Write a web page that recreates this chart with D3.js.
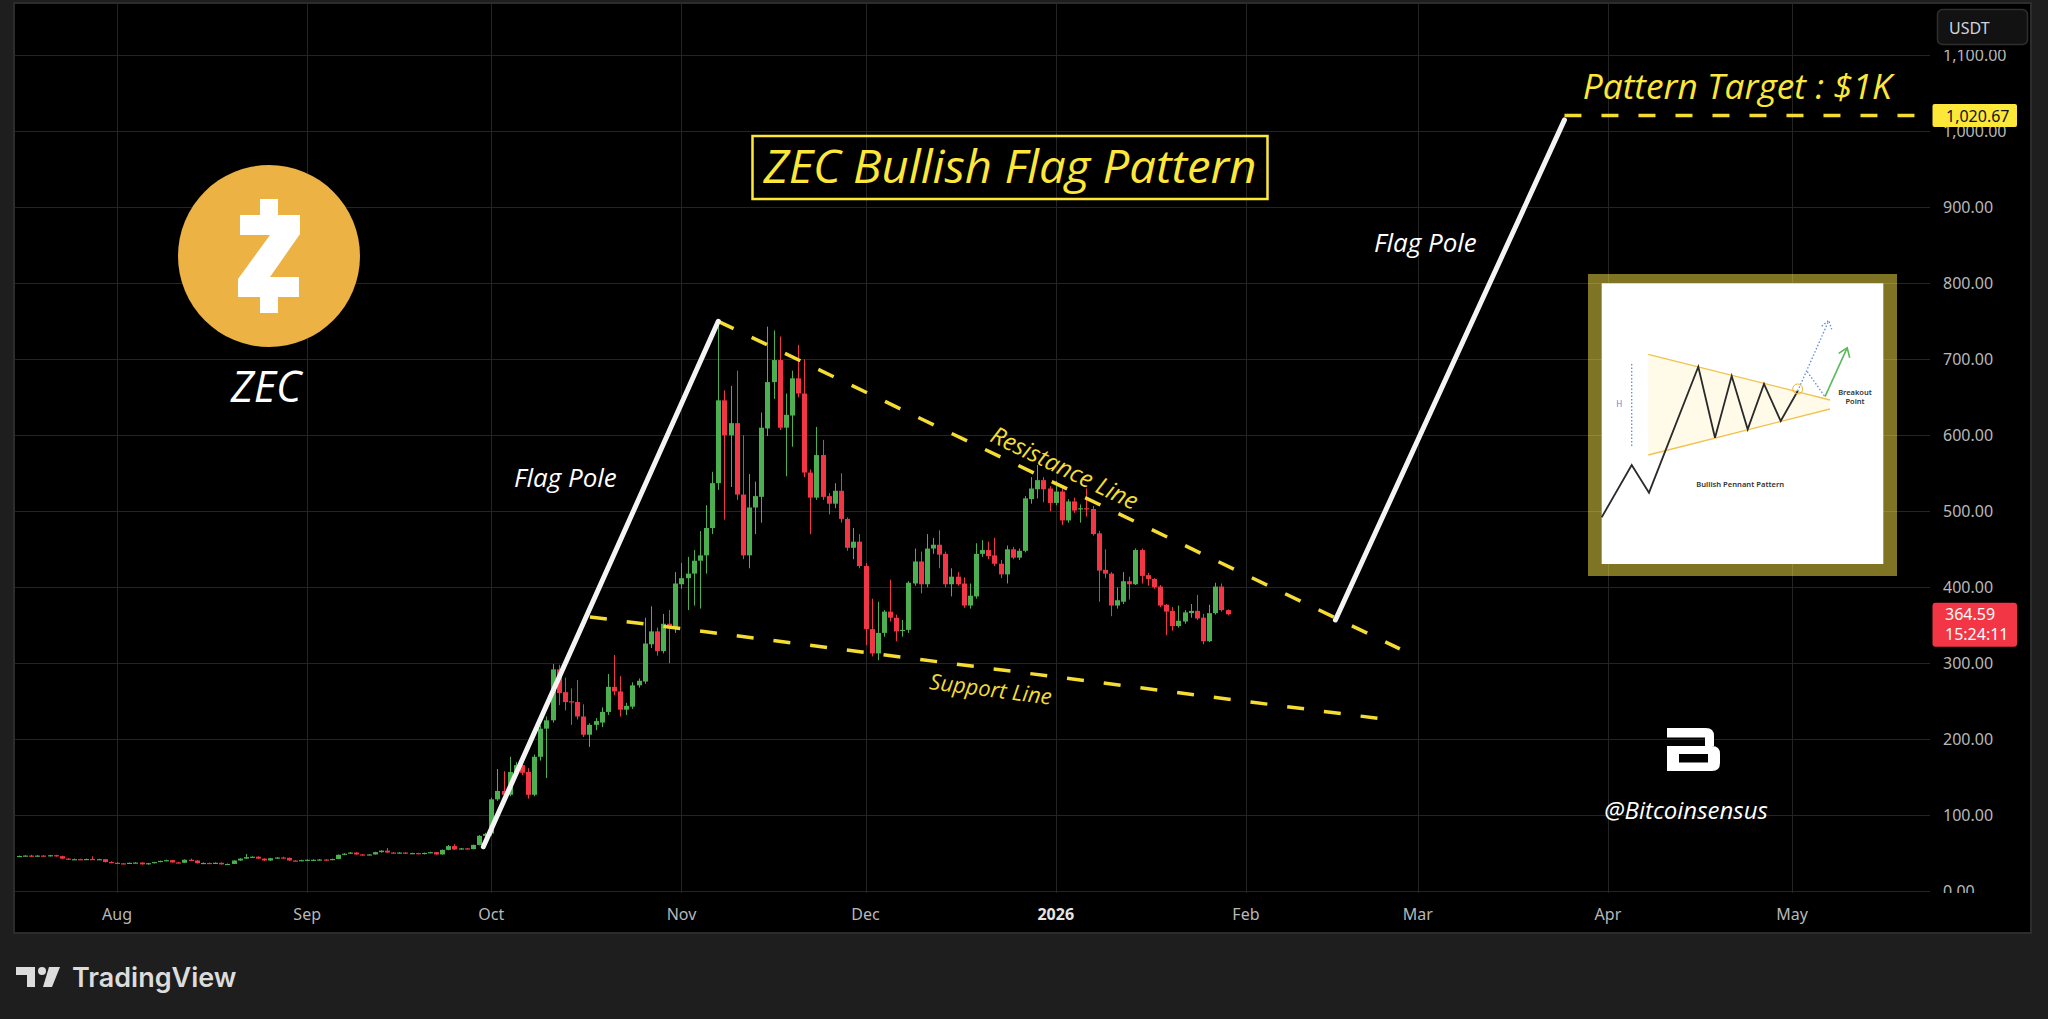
<!DOCTYPE html>
<html><head><meta charset="utf-8">
<script src="https://cdn.jsdelivr.net/npm/d3@7"></script>
<style>html,body{margin:0;padding:0;background:#1e1e1e;overflow:hidden}</style>
</head><body><svg id="c" width="2048" height="1019"></svg>
<script>
// ---------------- DATA ----------------
const firstDay = "2025-07-16";
const opens = [
45.5,46.5,47,46,47,46.5,47.5,46.2,43,42,
42.3,42,42.5,42,42.3,38.5,37.5,36.8,36.3,37.5,
37.8,35.5,37,38.5,40,41,38,37.5,41.5,40.5,
37,37.3,37,37.5,35.5,36,40.5,43,45,45.5,
43,40.5,43.5,44.5,44,40.5,40,41,41.5,41.5,
41.8,41.2,42.5,48,49.5,51,48.5,48,48.5,51.5,
53.5,51,50.5,51,50,50.3,49,50.5,51.5,48.5,
54.5,59.5,55,56.5,55.5,61,73,
76,121,132,127,157,166,157,127,177,214,
225,292,262,250,249,230,206,219,222,236,
269,263,239,243,271,276,325,342,316,352,346,
404,412,418,435,442,478,537,646,600,616,
522,442,505,519,609,670,699,610,626,675,
655,551,518,574,520,510,527,490,452,460,
428,345,313,340,368,360,343,344,405,434,
404,451,456,444,404,414,405,376,388,444,
449,442,431,417,450,439,448,516,529,541,
530,511,526,488,513,503,504,503,471,423,
418,376,381,408,404,449,416,411,401,377,
369,349,355,366,369,360,329,366,401,370];
const highs = [
47,47.5,48,47.5,47.5,48,48,46.8,43.5,43,
42.8,43,46,42.8,42.6,39.5,38.5,37.4,37.8,38.4,
38.2,37.5,38.8,40.4,41.6,41.4,38.6,42,43,41,
38,37.8,38,38,36.5,41,43.5,49,46,46,
43.5,44,45,45.5,44.5,41,41.5,42,42,42.5,
42.2,43,48.5,50,51.5,51.5,49,49,52,54,
57,51.6,51.5,51.5,50.8,50.6,51,52,52,55,
61,62,57,57,61.5,74,77,
123,161,158,177,170,178,162,180,218,230,
299,298,281,267,278,246,221,228,242,286,
311,283,248,275,280,360,375,347,365,370,420,
432,440,449,474,508,552,750,659,665,685,
600,549,539,630,743,738,730,655,685,719,
700,555,611,594,524,537,550,492,478,470,
432,385,381,370,410,364,357,408,451,447,
470,465,475,447,425,420,413,405,458,462,
460,465,436,455,453,451,520,545,561,545,
533,540,530,516,518,509,530,507,474,450,
420,400,420,414,451,451,419,412,403,378,
374,376,370,378,390,365,377,406,405,371];
const lows = [
45,46,45.5,45.5,46,46,45.5,42.5,41.5,41.5,
41.6,41.5,41.8,41.5,38,37,36.2,35.6,36,37,
35,35.2,36.6,38.2,39.6,37.6,37,37.2,40,36.6,
36.6,36.5,36.6,35,35,35.8,40.2,42.6,44.5,42.6,
40,40.2,43,43.5,40,39.6,39.6,40.6,41,41.2,
40.8,41,42.2,47.5,49,48,47.5,47.6,48.2,51,
50.6,50,50,49.6,49.6,48.6,48.6,50,48,48.2,
54,54.5,54.6,55,55.2,60.5,72,
73,119,125,125,150,153,122,125,172,149,
222,245,238,219,226,203,190,212,216,232,
258,230,232,240,268,273,320,310,313,300,340,
398,370,376,372,418,470,528,489,532,515,
437,425,470,485,599,648,607,546,585,650,
545,470,515,515,496,504,485,448,437,425,
324,309,304,335,355,329,335,340,402,392,
400,444,425,400,388,402,373,372,385,440,
437,428,412,405,437,436,446,510,517,512,
500,508,482,485,498,485,493,468,381,412,
362,372,378,384,403,405,402,398,374,337,
343,347,352,360,357,325,328,364,368,363];
const closes = [
46.5,47,46,47,46.5,47.5,46.2,43,42,42.3,
42,42.5,42,42.3,38.5,37.5,36.8,36.3,37.5,37.8,
35.5,37,38.5,40,41,38,37.5,41.5,40.5,37,
37.3,37,37.5,35.5,36,40.5,43,45,45.5,43,
40.5,43.5,44.5,44,40.5,40,41,41.5,41.5,41.8,
41.2,42.5,48,49.5,51,48.5,48,48.5,51.5,53.5,
51,50.5,51,50,50.3,49,50.5,51.5,48.5,54.5,
59.5,55,56.5,55.5,61,73,75.5,
121,132,127,157,166,156,127,177,214,225,
292,261,249,249,230,206,219,224,236,269,
263,239,244,271,277,326,342,316,352,346,405,
412,418,435,442,478,537,646,600,616,522,
442,505,520,610,670,699,610,627,675,655,
551,518,574,519,510,527,490,452,460,428,
345,313,340,368,360,342,344,406,434,404,
451,456,443,404,414,404,376,389,444,449,
441,431,417,450,439,448,517,530,541,529,
511,526,488,513,501,504,503,470,422,418,
376,383,408,404,449,415,411,400,376,368,
349,356,367,369,359,329,366,401,370,364.59];

const priceTicks = [0,100,200,300,400,500,600,700,800,900,1000,1100];
const monthTicks = ["2025-08-01","2025-09-01","2025-10-01","2025-11-01","2025-12-01","2026-01-01","2026-02-01","2026-03-01","2026-04-01","2026-05-01"];
const monthLabels = ["Aug","Sep","Oct","Nov","Dec","2026","Feb","Mar","Apr","May"];

// drawn annotations (date, price)
const poleLeft   = [["2025-09-29T17:00Z", 58.7], ["2025-11-07T00:00Z", 750]];
const resistance = [["2025-11-07T00:00Z", 750], ["2026-02-26T02:00Z", 319]];
const support    = [["2025-10-17T02:00Z", 361], ["2026-02-24T00:00Z", 226]];
const poleRight  = [["2026-02-15T14:00Z", 357], ["2026-03-24T22:00Z", 1015]];
const targetPrice = 1020.67;
const targetSpan = ["2026-03-24T22:00Z", "2026-05-22T00:00Z"];
const countdown = "15:24:11";

// ---------------- LAYOUT ----------------
const svg = d3.select("#c");
const UP="#4caf50", DOWN="#f23645", YEL="#f4dc32", GRID="#242424", TXT="#b8b8b8";
const FONT="'Noto Sans', 'Open Sans', sans-serif", IFONT="'Open Sans', 'Noto Sans', sans-serif";
const plot = {l:14, r:1930, t:3, b:893};

const x = d3.scaleUtc().domain([new Date("2025-08-01T00:00Z"), new Date("2026-05-01T00:00Z")]).range([117,1792]);
const y = d3.scaleLinear().domain([0,1100]).range([891.3,55.3]);
const D = s => new Date(s.length===10 ? s+"T00:00Z" : s);

const t0 = D(firstDay);
const candles = opens.map((o,i)=>({date:d3.utcDay.offset(t0,i), o, h:highs[i], l:lows[i], c:closes[i]}));

svg.append("rect").attr("width",2048).attr("height",1019).attr("fill","#1e1e1e");
svg.append("rect").attr("x",14).attr("y",3).attr("width",2017).attr("height",930)
  .attr("fill","#000").attr("stroke","#2c2c2c").attr("stroke-width",2);

const defs = svg.append("defs");
defs.append("clipPath").attr("id","plotclip").append("rect")
  .attr("x",plot.l).attr("y",plot.t).attr("width",plot.r-plot.l).attr("height",plot.b-plot.t);
defs.append("clipPath").attr("id","axisclip").append("rect")
  .attr("x",1931).attr("y",50).attr("width",100).attr("height",843);

// grid
const grid = svg.append("g").attr("clip-path","url(#plotclip)");
grid.selectAll(".hg").data(priceTicks).join("line")
  .attr("x1",plot.l).attr("x2",plot.r).attr("y1",d=>Math.round(y(d))+0.5).attr("y2",d=>Math.round(y(d))+0.5)
  .attr("stroke",GRID).attr("stroke-width",1);
grid.selectAll(".vg").data(monthTicks).join("line")
  .attr("x1",d=>Math.round(x(D(d)))+0.5).attr("x2",d=>Math.round(x(D(d)))+0.5)
  .attr("y1",plot.t).attr("y2",plot.b).attr("stroke",GRID).attr("stroke-width",1);

// candles
const cg = svg.append("g").attr("clip-path","url(#plotclip)");
const bw = 5;
cg.selectAll(".wick").data(candles).join("line")
  .attr("x1",d=>Math.round(x(d.date))+0.5).attr("x2",d=>Math.round(x(d.date))+0.5)
  .attr("y1",d=>y(d.h)).attr("y2",d=>y(d.l))
  .attr("stroke",d=>d.c>=d.o?UP:DOWN).attr("stroke-width",1);
cg.selectAll(".body").data(candles).join("rect")
  .attr("x",d=>Math.round(x(d.date))-2).attr("width",bw)
  .attr("y",d=>y(Math.max(d.o,d.c)))
  .attr("height",d=>Math.max(1.2, Math.abs(y(d.o)-y(d.c))))
  .attr("fill",d=>d.c>=d.o?UP:DOWN);

// annotations
const ag = svg.append("g").attr("clip-path","url(#plotclip)");
const P = p => [x(D(p[0])), y(p[1])];
function seg(pts, stroke, w, dash, cap){
  const a=P(pts[0]), b=P(pts[1]);
  ag.append("line").attr("x1",a[0]).attr("y1",a[1]).attr("x2",b[0]).attr("y2",b[1])
    .attr("stroke",stroke).attr("stroke-width",w).attr("stroke-dasharray",dash||null)
    .attr("stroke-linecap",cap||"butt");
}
seg(resistance, YEL, 3.5, "17,20");
seg(support, YEL, 3.5, "17,20");
seg([[targetSpan[0],targetPrice],[targetSpan[1],targetPrice]], YEL, 3.5, "17,20");
seg(poleLeft, "#f4f4f4", 5, null, "round");
seg(poleRight, "#f4f4f4", 5, null, "round");

function angleOf(pts){const a=P(pts[0]), b=P(pts[1]); return Math.atan2(b[1]-a[1], b[0]-a[0])*180/Math.PI;}

const labels = [
  {t:"Flag Pole", d:"2025-10-13T02:00Z", p:532.6, size:26, fill:"#ffffff", rot:0, base:true},
  {t:"Flag Pole", d:"2026-03-02T06:00Z", p:841.8, size:26, fill:"#ffffff", rot:0, base:true},
  {t:"Pattern Target : $1K", d:"2026-04-22T02:00Z", p:1042, size:34, fill:"#fde83a", rot:0, base:true, len:309},
  {t:"Resistance Line", d:"2026-01-02T12:00Z", p:558.3, size:24, fill:YEL, rot:angleOf(resistance)},
  {t:"Support Line", d:"2025-12-21T10:00Z", p:267.5, size:22, fill:YEL, rot:angleOf(support)}
];
labels.forEach(L=>{
  const px=x(D(L.d)), py=y(L.p);
  const t = svg.append("text").attr("x",px).attr("y",py)
    .attr("text-anchor","middle").attr("font-family",IFONT).attr("font-style","italic")
    .attr("font-size",L.size).attr("fill",L.fill)
    .attr("dominant-baseline", L.base? "alphabetic":"central")
    .attr("transform", L.rot? `rotate(${L.rot},${px},${py})` : null)
    .text(L.t);
  if(L.len) t.attr("textLength",L.len).attr("lengthAdjust","spacingAndGlyphs");
});

// title box
svg.append("rect").attr("x",752.5).attr("y",136).attr("width",515).attr("height",63)
  .attr("fill","none").attr("stroke","#fde83a").attr("stroke-width",2.5);
svg.append("text").attr("x",1010).attr("y",182.5).attr("text-anchor","middle")
  .attr("font-family",IFONT).attr("font-style","italic").attr("font-size",45).attr("fill","#fde83a")
  .attr("textLength",493).attr("lengthAdjust","spacingAndGlyphs")
  .text("ZEC Bullish Flag Pattern");

// ZEC logo
const zc = {cx:269, cy:256, r:91};
svg.append("circle").attr("cx",zc.cx).attr("cy",zc.cy).attr("r",zc.r).attr("fill","#ecb244");
const zpts = [[-9,-57],[9,-57],[9,-41],[31,-41],[31,-22],[1,21],[30,21],[30,41],[9,41],[9,57],[-9,57],[-9,41],[-31,41],[-31,23],[1,-21],[-29,-21],[-29,-41],[-9,-41]];
svg.append("polygon").attr("points",zpts.map(p=>[zc.cx+p[0],zc.cy+p[1]].join(",")).join(" ")).attr("fill","#fff");
svg.append("text").attr("x",266).attr("y",401.5).attr("text-anchor","middle")
  .attr("font-family",IFONT).attr("font-style","italic").attr("font-size",43).attr("fill","#fff").text("ZEC");

// Bitcoinsensus logo
svg.append("path").attr("fill","#fff").attr("fill-rule","evenodd")
  .attr("d","M1667,728 H1706 Q1714,728 1714,736 V746 H1712 Q1720,746 1720,754 V763 Q1720,771 1712,771 H1667 V746 H1705 V737.5 H1667 Z M1679,754 H1708 V762.5 H1679 Z");
svg.append("text").attr("x",1686).attr("y",819).attr("text-anchor","middle")
  .attr("font-family",IFONT).attr("font-style","italic").attr("font-size",24).attr("fill","#fff")
  .text("@Bitcoinsensus");

// inset picture
const ins = {x:1601.7, y:283.3, w:281.6, h:280.7};
svg.append("rect").attr("x",1588).attr("y",274).attr("width",309).attr("height",302)
  .attr("fill","#fde846").attr("fill-opacity",0.5);
svg.append("rect").attr("x",ins.x).attr("y",ins.y).attr("width",ins.w).attr("height",ins.h).attr("fill","#fff");
const ig = svg.append("g").attr("transform",`translate(${ins.x},${ins.y})`);
ig.append("polygon").attr("points","46.6,71 228.3,116.7 228.3,125.7 46.6,171.7").attr("fill","#fffbe8");
ig.append("line").attr("x1",46.6).attr("y1",71).attr("x2",228.3).attr("y2",116.7).attr("stroke","#f2c14e").attr("stroke-width",1.3);
ig.append("line").attr("x1",46.6).attr("y1",171.7).attr("x2",228.3).attr("y2",125.7).attr("stroke","#f2c14e").attr("stroke-width",1.3);
ig.append("polyline").attr("points","0,234 30,181.7 47.3,209.4 96.6,83.4 113.3,154.4 130,92.7 146,146 162.3,100.7 179,137.7 196,107.7")
  .attr("fill","none").attr("stroke","#2a2a2a").attr("stroke-width",1.8);
ig.append("line").attr("x1",30).attr("y1",80.7).attr("x2",30).attr("y2",163.4).attr("stroke","#5b8ed6").attr("stroke-width",1.3).attr("stroke-dasharray","1.5,2");
ig.append("text").attr("x",17.6).attr("y",120).attr("text-anchor","middle").attr("dominant-baseline","central")
  .attr("font-family",FONT).attr("font-size",8).attr("fill","#4f86d8").text("H");
ig.append("circle").attr("cx",196).attr("cy",105.7).attr("r",5).attr("fill","none").attr("stroke","#f0b429").attr("stroke-width",1);
ig.append("line").attr("x1",196).attr("y1",107.7).attr("x2",226.6).attr("y2",38.4).attr("stroke","#5b8ed6").attr("stroke-width",1.3).attr("stroke-dasharray","1.5,2");
ig.append("polyline").attr("points","220,43 227,37 230,46").attr("fill","none").attr("stroke","#5b8ed6").attr("stroke-width",1.3).attr("stroke-dasharray","1.5,2");
ig.append("line").attr("x1",205.6).attr("y1",88.4).attr("x2",223.3).attr("y2",113.4).attr("stroke","#5b8ed6").attr("stroke-width",1.3).attr("stroke-dasharray","1.5,2");
ig.append("line").attr("x1",223.3).attr("y1",113.4).attr("x2",245).attr("y2",65.5).attr("stroke","#5cb85c").attr("stroke-width",1.6);
ig.append("polyline").attr("points","237,70 245.5,64.5 248,74.5").attr("fill","none").attr("stroke","#5cb85c").attr("stroke-width",1.6);
ig.append("text").attr("x",253.3).attr("y",112).attr("text-anchor","middle").attr("font-family",FONT).attr("font-size",7.5).attr("font-weight",600).attr("fill","#333").text("Breakout");
ig.append("text").attr("x",253.3).attr("y",121).attr("text-anchor","middle").attr("font-family",FONT).attr("font-size",7.5).attr("font-weight",600).attr("fill","#333").text("Point");
ig.append("text").attr("x",138.5).attr("y",203.5).attr("text-anchor","middle").attr("font-family",FONT).attr("font-size",7.6).attr("font-weight",600).attr("fill","#333").text("Bullish Pennant Pattern");

// price axis
const fmt = d3.format(",.2f");
const axg = svg.append("g").attr("clip-path","url(#axisclip)");
axg.selectAll("text").data(priceTicks).join("text")
  .attr("x",1943).attr("y",d=>y(d)).attr("dominant-baseline","central")
  .attr("font-family",FONT).attr("font-size",16).attr("fill",TXT).text(d=>fmt(d));

// target label
svg.append("rect").attr("x",1932.5).attr("y",y(targetPrice)-11.5).attr("width",84.5).attr("height",23).attr("rx",2).attr("fill","#fde83a");
svg.append("text").attr("x",1946).attr("y",y(targetPrice)).attr("dominant-baseline","central")
  .attr("font-family",FONT).attr("font-size",16).attr("fill","#111").text(fmt(targetPrice));

// last price label
const last = closes[closes.length-1];
svg.append("rect").attr("x",1932.5).attr("y",y(last)-11.5).attr("width",84.5).attr("height",44).attr("rx",3).attr("fill",DOWN);
svg.append("text").attr("x",1945).attr("y",y(last)).attr("dominant-baseline","central")
  .attr("font-family",FONT).attr("font-size",16).attr("fill","#fff").text(d3.format(".2f")(last));
svg.append("text").attr("x",1945).attr("y",y(last)+20).attr("dominant-baseline","central")
  .attr("font-family",FONT).attr("font-size",16).attr("fill","#fff").text(countdown);

// USDT button
svg.append("rect").attr("x",1937.5).attr("y",9.5).attr("width",90).attr("height",35).attr("rx",5)
  .attr("fill","#121212").attr("stroke","#2f2f2f").attr("stroke-width",1.5);
svg.append("text").attr("x",1949).attr("y",27.5).attr("dominant-baseline","central")
  .attr("font-family",FONT).attr("font-size",16).attr("fill","#d1d4dc").text("USDT");

// time axis
svg.selectAll(".ml").data(monthTicks).join("text")
  .attr("x",d=>x(D(d))).attr("y",914).attr("text-anchor","middle").attr("dominant-baseline","central")
  .attr("font-family",FONT).attr("font-size",16)
  .attr("fill",(d,i)=>monthLabels[i]==="2026"?"#e6e6e6":TXT)
  .attr("font-weight",(d,i)=>monthLabels[i]==="2026"?700:400)
  .text((d,i)=>monthLabels[i]);

// TradingView footer
const tv = svg.append("g").attr("fill","#dcdcdc");
tv.append("path").attr("d","M16,967 H35 V987 H27 V975 H16 Z");
tv.append("circle").attr("cx",42).attr("cy",971).attr("r",4);
tv.append("path").attr("d","M49,967 H60 L52,987 H43 Z");
tv.append("text").attr("x",72).attr("y",987).attr("font-family","Inter, 'Noto Sans', sans-serif")
  .attr("font-weight",600).attr("font-size",27).attr("fill","#dcdcdc").text("TradingView");
</script></body></html>
